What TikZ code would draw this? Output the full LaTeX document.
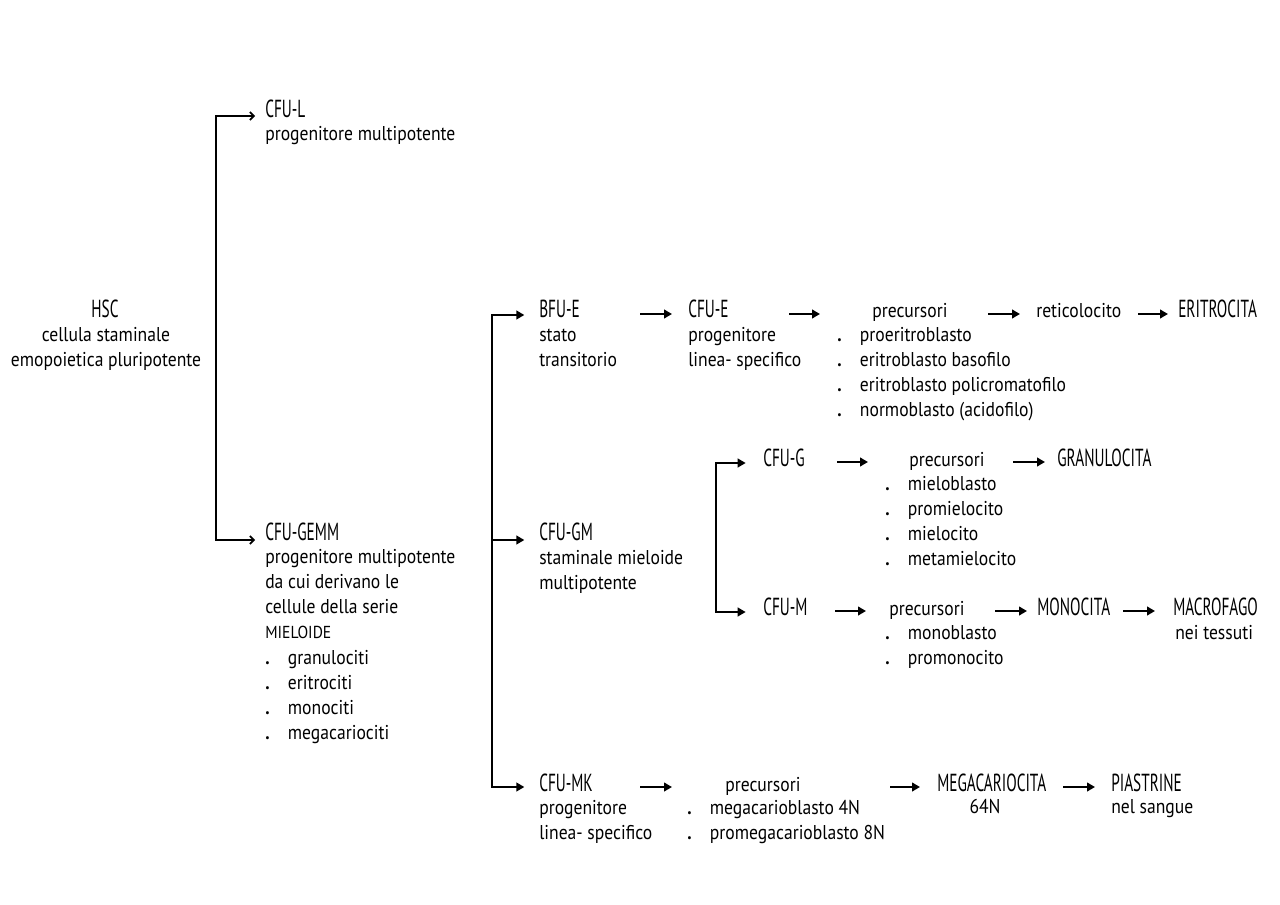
\documentclass[tikz,border=0pt]{standalone}
\usepackage{fontspec}
\setmainfont{PT Sans}
\newfontfamily\capf[FakeStretch=0.62]{PT Sans}
\newfontfamily\scf[FakeStretch=0.9]{PT Sans}
\newfontfamily\lowf[FakeStretch=0.88]{PT Sans}
\usetikzlibrary{arrows.meta}
\newcommand\bl[1]{\makebox[17pt][l]{\textbf{.}}#1}
\newcommand\harrow[3]{\draw[arrw] ([xshift=-#2*0.75pt-#3*0.75pt]#1.west) -- ([xshift=-#2*0.75pt]#1.west);}
\begin{document}
\begin{tikzpicture}[x=0.75pt,y=-0.75pt,
  ttl/.style={anchor=base west,inner sep=0pt,font=\capf\fontsize{18.5}{18.75}\selectfont,text height=10pt,text depth=4pt},
  ttlc/.style={ttl,anchor=base},
  lowt/.style={anchor=base west,inner sep=0pt,font=\lowf\fontsize{15}{18.75}\selectfont,text height=10pt,text depth=4pt},
  dsc/.style={anchor=base west,inner sep=0pt,font=\lowf\fontsize{15}{18.75}\selectfont,align=left},
  dscc/.style={dsc,anchor=base,align=center},
  smcap/.style={anchor=base west,inner sep=0pt,font=\scf\fontsize{13}{18.75}\selectfont},
  arrw/.style={line width=1.6pt,-{Triangle[length=6pt,width=6.5pt]}},
  branch/.style={line width=1.5pt,line join=miter,-{Triangle[length=6pt,width=6.5pt]}},
  openbr/.style={line width=1.3pt,line join=miter,-{Straight Barb[length=3pt,width=6pt,line width=1.2pt]}}]
\useasboundingbox[fill=white] (0,0) rectangle (1280,905);

% HSC (multi-line nodes: y is the baseline of the last line)
\node[ttlc] (hsc) at (105,318) {HSC};
\node[dscc] (hscd) at (106,366) {cellula staminale\\emopoietica pluripotente};

% level 1
\node[ttl] (cfuL) at (265,118) {CFU-L};
\node[dsc] (cfuLd) at (265,141) {progenitore multipotente};
\node[ttl] (gemm) at (265,540) {CFU-GEMM};
\node[dsc] (gemmd) at (265,613) {progenitore multipotente\\da cui derivano le\\cellule della serie};
\node[smcap] (mieloide) at (265,638) {MIELOIDE};
\node[dsc] (gemml) at (265,739) {\bl{granulociti}\\\bl{eritrociti}\\\bl{monociti}\\\bl{megacariociti}};

\coordinate (b1t) at (216,116);
\coordinate (b1b) at (216,540);
\draw[openbr,shorten >=7.5pt] (b1b) -- (b1t) -- (b1t -| cfuL.west);
\draw[openbr,shorten >=7.5pt] (b1t) -- (b1b) -- (b1b -| gemm.west);

% erythroid row
\node[ttl] (bfue) at (539,318) {BFU-E};
\node[dsc] (bfued) at (539,366) {stato\\transitorio};
\node[ttl] (cfue) at (688,318) {CFU-E};
\node[dsc] (cfued) at (688,366) {progenitore\\linea- specifico};
\node[lowt] (precE) at (872,318) {precursori};
\node[dsc] (precEl) at (837,416) {\bl{proeritroblasto}\\\bl{eritroblasto basofilo}\\\bl{eritroblasto policromatofilo}\\\bl{normoblasto (acidofilo)}};
\node[lowt] (retic) at (1036,318) {reticolocito};
\node[ttl] (eritro) at (1178,318) {ERITROCITA};

% myeloid
\node[ttl] (cfugm) at (539,540) {CFU-GM};
\node[dsc] (cfugmd) at (539,589) {staminale mieloide\\multipotente};
\node[ttl] (cfug) at (763,466) {CFU-G};
\node[lowt] (precG) at (909,466) {precursori};
\node[dsc] (precGl) at (885,565) {\bl{mieloblasto}\\\bl{promielocito}\\\bl{mielocito}\\\bl{metamielocito}};
\node[ttl] (granulo) at (1057,466) {GRANULOCITA};
\node[ttl] (cfum) at (763,615) {CFU-M};
\node[lowt] (precM) at (889,615) {precursori};
\node[dsc] (precMl) at (885,664) {\bl{monoblasto}\\\bl{promonocito}};
\node[ttl] (mono) at (1037,615) {MONOCITA};
\node[ttl] (macro) at (1173,615) {MACROFAGO};
\node[dsc] (macrod) at (1175,639) {nei tessuti};

% megakaryocyte
\node[ttl] (cfumk) at (539,791) {CFU-MK};
\node[dsc] (cfumkd) at (539,839) {progenitore\\linea- specifico};
\node[lowt] (precMK) at (725,791) {precursori};
\node[dsc] (precMKl) at (687,839) {\bl{megacarioblasto 4N}\\\bl{promegacarioblasto 8N}};
\node[ttl] (mega) at (937,791) {MEGACARIOCITA};
\node[dscc] (megad) at (985,813) {64N};
\node[ttl] (piastr) at (1111,791) {PIASTRINE};
\node[dsc] (piastrd) at (1111,813) {nel sangue};

% branch 2
\coordinate (b2t) at (492,315);
\coordinate (b2m) at (492,540);
\coordinate (b2b) at (492,787);
\draw[line width=1.5pt] (b2t) -- (b2b);
\draw[branch,shorten >=11pt] (b2b) -- (b2t) -- (b2t -| bfue.west);
\draw[branch,shorten >=11pt] (b2m) -- (b2m -| cfugm.west);
\draw[branch,shorten >=11pt] (b2t) -- (b2b) -- (b2b -| cfumk.west);

% branch 3
\coordinate (b3t) at (716,463);
\coordinate (b3b) at (716,612);
\draw[branch,shorten >=13pt] (b3b) -- (b3t) -- (b3t -| cfug.west);
\draw[branch,shorten >=13pt] (b3t) -- (b3b) -- (b3b -| cfum.west);

% horizontal arrows
\harrow{cfue}{16}{32}
\harrow{precE}{52}{31}
\harrow{retic}{16}{32}
\harrow{eritro}{10}{30}
\harrow{precG}{41}{31}
\harrow{granulo}{12}{32}
\harrow{precM}{23}{31}
\harrow{mono}{10}{32}
\harrow{macro}{18}{32}
\harrow{precMK}{53}{32}
\harrow{mega}{17}{30}
\harrow{piastr}{16}{32}
\end{tikzpicture}
\end{document}
